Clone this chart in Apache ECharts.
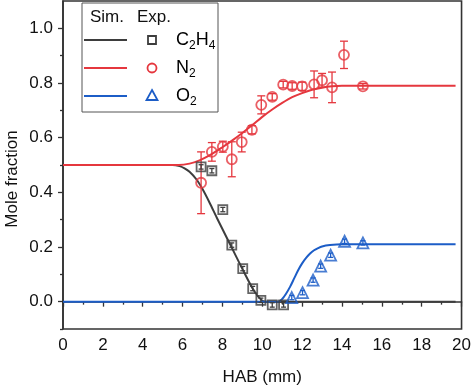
<!DOCTYPE html>
<html>
<head>
<meta charset="utf-8">
<script src="https://cdn.jsdelivr.net/npm/echarts@6/dist/echarts.min.js"></script>
<style>html,body{margin:0;padding:0;background:#fff}#c{width:474px;height:391px}</style>
</head>
<body>
<div id="c"></div>
<script>
// ---- data ----
const xTicks = [0, 2, 4, 6, 8, 10, 12, 14, 16, 18, 20];
const yTicks = [0, 0.2, 0.4, 0.6, 0.8, 1.0];
const yMinorTicks = [-0.1, 0.1, 0.3, 0.5, 0.7, 0.9];

const c2h4SimX = [0, 5.5, 5.85, 6.1, 6.35, 6.7, 7.0, 7.35, 7.7, 8.0, 8.5, 9.0, 9.5, 9.85, 10.1, 10.4, 19.7];
const c2h4SimY = [0.5, 0.5, 0.496, 0.488, 0.475, 0.447, 0.412, 0.363, 0.31, 0.266, 0.193, 0.12, 0.05, 0.014, 0.001, 0, 0];

const n2SimX = [0, 5.8, 6.35, 6.85, 7.35, 8.0, 8.5, 9.0, 9.5, 10.0, 10.5, 11.0, 11.5, 12.0, 12.5, 13.0, 13.5, 14.0, 19.7];
const n2SimY = [0.5, 0.5, 0.505, 0.517, 0.535, 0.565, 0.59, 0.617, 0.646, 0.676, 0.703, 0.727, 0.748, 0.763, 0.775, 0.783, 0.788, 0.79, 0.79];

const o2SimX = [0, 10.8, 11.0, 11.2, 11.4, 11.6, 11.8, 12.0, 12.2, 12.4, 12.6, 12.8, 13.0, 13.4, 14.0, 19.7];
const o2SimY = [0, 0, 0.01, 0.03, 0.055, 0.085, 0.115, 0.14, 0.16, 0.176, 0.188, 0.196, 0.202, 0.207, 0.21, 0.21];

const n2ExpX = [6.93, 7.47, 8.02, 8.47, 8.97, 9.48, 9.95, 10.5, 11.05, 11.5, 12.0, 12.6, 13.0, 13.5, 14.1, 15.05];
const n2ExpY = [0.435, 0.548, 0.567, 0.521, 0.584, 0.629, 0.72, 0.749, 0.794, 0.789, 0.788, 0.795, 0.81, 0.784, 0.903, 0.788];
const n2ExpErr = [0.113, 0.034, 0.02, 0.064, 0.036, 0.015, 0.033, 0.012, 0.012, 0.012, 0.015, 0.049, 0.025, 0.056, 0.05, 0.01];

const c2h4ExpX = [6.93, 7.47, 8.02, 8.47, 9.02, 9.52, 9.93, 10.5, 11.07];
const c2h4ExpY = [0.493, 0.479, 0.337, 0.207, 0.121, 0.048, 0.005, -0.012, -0.012];
const c2h4ExpErr = [0.008, 0.008, 0.008, 0.008, 0.008, 0.008, 0.008, 0.008, 0.008];

const o2ExpX = [11.48, 12.02, 12.55, 12.93, 13.43, 14.13, 15.05];
const o2ExpY = [0.015, 0.033, 0.079, 0.13, 0.17, 0.221, 0.215];
const o2ExpErr = [0.008, 0.008, 0.008, 0.008, 0.008, 0.008, 0.008];

// ---- styles ----
const RED = '#e5373e', BLUE = '#1c5dc7', BLACK = '#3d3d3d';
const FONT = 'Liberation Sans, Arial, sans-serif';

const zip = (xs, ys) => xs.map((x, i) => [x, ys[i]]);
const zip3 = (xs, ys, es) => xs.map((x, i) => [x, ys[i] - es[i], ys[i] + es[i]]);

function errSeries(xs, ys, es, color, cap) {
  return {
    type: 'custom', z: 3, silent: true,
    data: zip3(xs, ys, es),
    renderItem: function (params, api) {
      const lo = api.coord([api.value(0), api.value(1)]);
      const hi = api.coord([api.value(0), api.value(2)]);
      const st = { stroke: color, lineWidth: 1.3 };
      return {
        type: 'group', children: [
          { type: 'line', shape: { x1: lo[0], y1: lo[1], x2: hi[0], y2: hi[1] }, style: st },
          { type: 'line', shape: { x1: lo[0] - cap, y1: lo[1], x2: lo[0] + cap, y2: lo[1] }, style: st },
          { type: 'line', shape: { x1: hi[0] - cap, y1: hi[1], x2: hi[0] + cap, y2: hi[1] }, style: st }
        ]
      };
    }
  };
}

function simLine(xs, ys, color, z) {
  return {
    type: 'line', data: zip(xs, ys), showSymbol: false, smooth: 0.3,
    lineStyle: { color: color, width: 2 }, z: z, silent: true
  };
}

function expScatter(xs, ys, color, symbol, size) {
  return {
    type: 'scatter', data: zip(xs, ys), symbol: symbol, symbolSize: size, z: 4,
    itemStyle: { color: 'rgba(255,255,255,0)', borderColor: color, borderWidth: 1.8 }, silent: true
  };
}

const chart = echarts.init(document.getElementById('c'), null, { renderer: 'canvas' });

const subRich = () => ({
  n: { fontSize: 18, fontFamily: FONT, color: '#111', lineHeight: 20 },
  s: { fontSize: 12, fontFamily: FONT, color: '#111', padding: [11, 0, 0, 0] }
});

const option = {
  animation: false,
  backgroundColor: '#fff',
  grid: { left: 63, right: 11, top: 1, bottom: 59, show: true, borderColor: '#333', borderWidth: 1.6, containLabel: false },
  xAxis: {
    type: 'value', min: 0, max: 20, interval: 2,
    axisLine: { show: true, lineStyle: { color: '#333', width: 1.6 } },
    axisTick: { show: true, length: 5, lineStyle: { color: '#333', width: 1.3 } },
    minorTick: { show: true, splitNumber: 2, length: 3, lineStyle: { color: '#333', width: 1.3 } },
    splitLine: { show: false },
    axisLabel: { fontSize: 17, fontFamily: FONT, color: '#111', margin: 8 },
    name: 'HAB (mm)', nameLocation: 'middle', nameGap: 40,
    nameTextStyle: { fontSize: 17, fontFamily: FONT, color: '#111' }
  },
  yAxis: [{
    type: 'value', min: -0.1, max: 1.1,
    axisLine: { show: true, lineStyle: { color: '#333', width: 1.6 } },
    axisTick: { show: true, length: 5, customValues: yTicks, lineStyle: { color: '#333', width: 1.3 } },
    axisLabel: { customValues: yTicks, fontSize: 17, fontFamily: FONT, color: '#111', margin: 10,
      formatter: v => v.toFixed(1) },
    splitLine: { show: false }
  }, {
    type: 'value', min: -0.1, max: 1.1, position: 'left', offset: 0,
    axisLine: { show: false },
    axisTick: { show: true, length: 3, customValues: yMinorTicks, lineStyle: { color: '#333', width: 1.3 } },
    axisLabel: { show: false },
    splitLine: { show: false }
  }],
  graphic: [
    { type: 'text', x: 12, y: 179, rotation: Math.PI / 2,
      style: { text: 'Mole fraction', font: '17px ' + FONT, fill: '#111', align: 'center', verticalAlign: 'middle' } },
    { type: 'rect', shape: { x: 82, y: 3, width: 136, height: 109 }, style: { fill: '#fff', stroke: '#555', lineWidth: 1 }, z: 10 },
    { type: 'text', x: 90, y: 17, z: 11, style: { text: 'Sim.', font: '17px ' + FONT, fill: '#111', verticalAlign: 'middle' } },
    { type: 'text', x: 137, y: 17, z: 11, style: { text: 'Exp.', font: '17px ' + FONT, fill: '#111', verticalAlign: 'middle' } },
    { type: 'line', z: 11, shape: { x1: 84, y1: 40, x2: 127, y2: 40 }, style: { stroke: BLACK, lineWidth: 2 } },
    { type: 'line', z: 11, shape: { x1: 84, y1: 68, x2: 127, y2: 68 }, style: { stroke: RED, lineWidth: 2 } },
    { type: 'line', z: 11, shape: { x1: 84, y1: 96, x2: 127, y2: 96 }, style: { stroke: BLUE, lineWidth: 2 } },
    { type: 'rect', z: 11, shape: { x: 148, y: 36, width: 8, height: 8 }, style: { fill: 'none', stroke: BLACK, lineWidth: 1.8 } },
    { type: 'circle', z: 11, shape: { cx: 152, cy: 68, r: 4.5 }, style: { fill: 'none', stroke: RED, lineWidth: 1.8 } },
    { type: 'polygon', z: 11, shape: { points: [[152, 90], [157.5, 100], [146.5, 100]] }, style: { fill: 'none', stroke: BLUE, lineWidth: 1.8 } },
    { type: 'text', x: 176, y: 40, z: 11, style: { text: '{n|C}{s|2}{n|H}{s|4}', rich: subRich(), verticalAlign: 'middle' } },
    { type: 'text', x: 176, y: 68, z: 11, style: { text: '{n|N}{s|2}', rich: subRich(), verticalAlign: 'middle' } },
    { type: 'text', x: 176, y: 96, z: 11, style: { text: '{n|O}{s|2}', rich: subRich(), verticalAlign: 'middle' } }
  ],
  series: [
    simLine(c2h4SimX, c2h4SimY, BLACK, 2),
    simLine(o2SimX, o2SimY, BLUE, 2),
    simLine(n2SimX, n2SimY, RED, 2),
    errSeries(n2ExpX, n2ExpY, n2ExpErr, RED, 4),
    errSeries(c2h4ExpX, c2h4ExpY, c2h4ExpErr, BLACK, 2.5),
    errSeries(o2ExpX, o2ExpY, o2ExpErr, BLUE, 2.5),
    expScatter(n2ExpX, n2ExpY, RED, 'circle', 10),
    expScatter(c2h4ExpX, c2h4ExpY, BLACK, 'rect', 9),
    expScatter(o2ExpX, o2ExpY, BLUE, 'triangle', 11)
  ]
};
chart.setOption(option);
</script>
</body>
</html>
